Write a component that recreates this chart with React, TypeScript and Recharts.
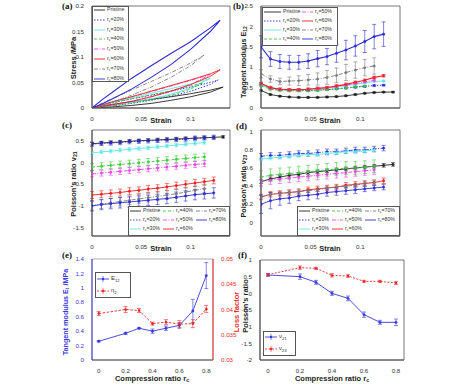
import React from 'react';
import { LineChart, Line, XAxis, YAxis, ErrorBar, ReferenceArea } from 'recharts';

// ---------- DATA ----------
// Panel (a): stress-strain hysteresis loops (loading / unloading)
const aPristineX = [0, 0.02, 0.04, 0.06, 0.08, 0.1, 0.12, 0.133];
const aPristineUp = [0, 0.007, 0.012, 0.017, 0.022, 0.028, 0.035, 0.041];
const aPristineDown = [0, 0.002, 0.005, 0.009, 0.015, 0.022, 0.031, 0.041];
const a20X = [0, 0.02, 0.04, 0.06, 0.08, 0.1, 0.12, 0.128];
const a20Up = [0, 0.01, 0.018, 0.025, 0.033, 0.041, 0.05, 0.055];
const a20Down = [0, 0.004, 0.009, 0.015, 0.023, 0.033, 0.046, 0.055];
const a30X = [0, 0.02, 0.04, 0.06, 0.08, 0.1, 0.12];
const a30Up = [0, 0.011, 0.02, 0.029, 0.038, 0.047, 0.058];
const a30Down = [0, 0.005, 0.011, 0.018, 0.027, 0.039, 0.058];
const a40X = [0, 0.02, 0.04, 0.06, 0.08, 0.1, 0.113];
const a40Up = [0, 0.01, 0.018, 0.026, 0.034, 0.043, 0.05];
const a40Down = [0, 0.004, 0.01, 0.016, 0.025, 0.037, 0.05];
const a50X = [0, 0.02, 0.04, 0.06, 0.08, 0.1, 0.12];
const a50Up = [0, 0.012, 0.022, 0.032, 0.043, 0.054, 0.066];
const a50Down = [0, 0.006, 0.013, 0.022, 0.032, 0.045, 0.066];
const a60X = [0, 0.02, 0.04, 0.06, 0.08, 0.1, 0.12, 0.13];
const a60Up = [0, 0.012, 0.022, 0.033, 0.044, 0.055, 0.067, 0.075];
const a60Down = [0, 0.006, 0.013, 0.022, 0.033, 0.046, 0.062, 0.075];
const a70X = [0, 0.02, 0.04, 0.06, 0.08, 0.1, 0.114];
const a70Up = [0, 0.018, 0.035, 0.052, 0.069, 0.088, 0.104];
const a70Down = [0, 0.011, 0.025, 0.041, 0.06, 0.083, 0.104];
const a80X = [0, 0.01, 0.02, 0.04, 0.06, 0.08, 0.1, 0.12, 0.13];
const a80Up = [0, 0.016, 0.03, 0.058, 0.083, 0.107, 0.13, 0.157, 0.172];
const a80Down = [0, 0.008, 0.017, 0.037, 0.06, 0.085, 0.115, 0.15, 0.172];

// Strain points for (b), (c), (d)
const strains = [0, 0.0095, 0.019, 0.0285, 0.038, 0.0475, 0.057, 0.0665, 0.076, 0.0855, 0.095, 0.1045, 0.114, 0.1235, 0.133];

// Panel (b): tangent modulus E12
const bPristine = [0.43, 0.33, 0.29, 0.27, 0.26, 0.26, 0.26, 0.27, 0.28, 0.3, 0.33, 0.36, 0.38, 0.39, 0.39];
const b20 = [0.58, 0.48, 0.45, 0.44, 0.43, 0.43, 0.44, 0.45, 0.47, 0.49, 0.51, 0.53, 0.55, 0.56];
const b30 = [0.57, 0.49, 0.46, 0.45, 0.45, 0.46, 0.47, 0.49, 0.52, 0.55, 0.58, 0.62, 0.65, 0.66];
const b40 = [0.55, 0.46, 0.43, 0.42, 0.42, 0.42, 0.43, 0.45, 0.47, 0.49, 0.52, 0.54];
const b50 = [0.6, 0.49, 0.46, 0.45, 0.45, 0.46, 0.48, 0.5, 0.53, 0.56, 0.6, 0.64, 0.68];
const b60 = [0.6, 0.5, 0.46, 0.45, 0.45, 0.46, 0.48, 0.5, 0.54, 0.58, 0.63, 0.68, 0.75, 0.79];
const b70 = [0.84, 0.71, 0.65, 0.66, 0.67, 0.69, 0.71, 0.75, 0.8, 0.87, 0.93, 0.99, 1.03];
const b70Err = [0.1, 0.08, 0.08, 0.1, 0.12, 0.13, 0.15, 0.17, 0.18, 0.2, 0.2, 0.2, 0.2];
const b80 = [1.5, 1.2, 1.14, 1.12, 1.12, 1.15, 1.21, 1.26, 1.34, 1.42, 1.52, 1.63, 1.75, 1.81];
const b80Err = [0.27, 0.18, 0.17, 0.17, 0.17, 0.18, 0.2, 0.2, 0.22, 0.24, 0.25, 0.27, 0.3, 0.3];

// Panel (c): Poisson's ratio v21
const cPristine = [0.44, 0.46, 0.47, 0.48, 0.5, 0.51, 0.52, 0.53, 0.54, 0.55, 0.56, 0.57, 0.58, 0.59, 0.6];
const c20 = [0.43, 0.45, 0.46, 0.47, 0.49, 0.5, 0.51, 0.52, 0.53, 0.54, 0.55, 0.57, 0.58, 0.59];
const c30 = [0.23, 0.25, 0.27, 0.29, 0.31, 0.33, 0.35, 0.37, 0.39, 0.41, 0.43, 0.45, 0.47];
const c40 = [-0.1, -0.08, -0.06, -0.04, -0.02, 0, 0.02, 0.04, 0.06, 0.08, 0.1, 0.12, 0.14];
const c50 = [-0.26, -0.24, -0.22, -0.2, -0.18, -0.16, -0.14, -0.12, -0.1, -0.08, -0.06, -0.04, -0.02];
const c60 = [-0.75, -0.73, -0.71, -0.69, -0.66, -0.64, -0.61, -0.59, -0.56, -0.53, -0.5, -0.47, -0.44, -0.41];
const c70 = [-1.0, -0.96, -0.93, -0.9, -0.87, -0.84, -0.81, -0.78, -0.75, -0.72, -0.68, -0.64, -0.6];
const c80 = [-1.0, -0.97, -0.95, -0.93, -0.91, -0.89, -0.87, -0.85, -0.83, -0.8, -0.77, -0.74, -0.72, -0.7];

// Panel (d): Poisson's ratio v23
const dPristine = [0.45, 0.48, 0.5, 0.52, 0.53, 0.55, 0.56, 0.57, 0.58, 0.59, 0.6, 0.61, 0.62, 0.63, 0.64];
const d20 = [0.73, 0.74, 0.74, 0.75, 0.76, 0.76, 0.77, 0.78, 0.78, 0.79, 0.8, 0.8, 0.81, 0.82];
const d30 = [0.7, 0.71, 0.72, 0.73, 0.74, 0.75, 0.75, 0.76, 0.77, 0.78, 0.78, 0.79, 0.8];
const d40 = [0.5, 0.52, 0.53, 0.54, 0.55, 0.56, 0.57, 0.58, 0.59, 0.6, 0.6, 0.61, 0.62];
const d50 = [0.45, 0.47, 0.48, 0.49, 0.5, 0.51, 0.52, 0.53, 0.54, 0.55, 0.56, 0.57, 0.58];
const d60 = [0.28, 0.31, 0.32, 0.33, 0.34, 0.36, 0.37, 0.38, 0.39, 0.41, 0.42, 0.43, 0.44, 0.46];
const d70 = [0.28, 0.31, 0.32, 0.33, 0.34, 0.35, 0.36, 0.38, 0.39, 0.4, 0.41, 0.43, 0.44];
const d80 = [0.2, 0.24, 0.26, 0.27, 0.29, 0.3, 0.31, 0.33, 0.34, 0.35, 0.36, 0.37, 0.38, 0.39];
const d80Err = [0.1, 0.09, 0.07, 0.06, 0.05, 0.05, 0.05, 0.04, 0.04, 0.04, 0.04, 0.03, 0.03, 0.03];

// Panels (e), (f): vs compression ratio
const ratios = [0, 0.2, 0.3, 0.4, 0.5, 0.6, 0.7, 0.8];
const eE12 = [0.26, 0.37, 0.44, 0.4, 0.44, 0.48, 0.68, 1.17];
const eE12Err = [0.01, 0.015, 0.01, 0.03, 0.03, 0.04, 0.16, 0.18];
const eLoss = [0.0392, 0.04, 0.0398, 0.0372, 0.0375, 0.0371, 0.0372, 0.0401];
const eLossErr = [0.0004, 0.0006, 0.0004, 0.0003, 0.0005, 0.0007, 0.0008, 0.0007];
const fV21 = [0.55, 0.5, 0.33, 0.0, -0.15, -0.64, -0.87, -0.87];
const fV21Err = [0.04, 0.08, 0.06, 0.06, 0.07, 0.08, 0.06, 0.1];
const fV23 = [0.56, 0.77, 0.75, 0.54, 0.52, 0.36, 0.36, 0.31];
const fV23Err = [0.03, 0.05, 0.03, 0.05, 0.04, 0.03, 0.03, 0.04];

// ---------- STYLE ----------
const SANS = '"Liberation Sans", Arial, sans-serif';
const SERIF = '"Liberation Serif", "Times New Roman", serif';
const C = {
  pristine: '#222222',
  r20: '#2a2ad8',
  r30: '#5fe6e6',
  r40: '#3ccc3c',
  r50: '#f040f0',
  r60: '#f02020',
  r70: '#7a7a7a',
  r80: '#2c2cd0',
};
const DASH = { dash: '3 2', dot: '1.5 1.5', dashdot: '4 1.5 1 1.5' };
const BLUE = '#3838e0';
const RED = '#ee2a2a';

type Pt = { x: number; y: number; e?: number };
const mk = (xs: number[], ys: number[], es?: number[] | number): Pt[] =>
  ys.map((y, i) => ({ x: xs[i], y, e: Array.isArray(es) ? es[i] : es }));
const loop = (xs: number[], up: number[], down: number[]): Pt[] => [
  ...xs.map((x, i) => ({ x, y: up[i] })),
  ...xs.map((x, i) => ({ x, y: down[i] })).reverse().slice(1),
];

type Series = { key: string; color: string; dash?: string; data: Pt[]; dots?: boolean; w?: number };

const seriesA: Series[] = [
  { key: 'p', color: C.pristine, data: loop(aPristineX, aPristineUp, aPristineDown) },
  { key: '20', color: C.r20, dash: DASH.dot, data: loop(a20X, a20Up, a20Down) },
  { key: '30', color: C.r30, data: loop(a30X, a30Up, a30Down) },
  { key: '40', color: C.r40, dash: DASH.dash, data: loop(a40X, a40Up, a40Down) },
  { key: '50', color: C.r50, dash: DASH.dashdot, data: loop(a50X, a50Up, a50Down) },
  { key: '60', color: C.r60, data: loop(a60X, a60Up, a60Down) },
  { key: '70', color: C.r70, dash: DASH.dashdot, data: loop(a70X, a70Up, a70Down) },
  { key: '80', color: C.r80, data: loop(a80X, a80Up, a80Down), w: 1.1 },
];

const seriesB: Series[] = [
  { key: 'p', color: C.pristine, data: mk(strains, bPristine, 0.015), dots: true },
  { key: '20', color: C.r20, dash: DASH.dot, data: mk(strains, b20, 0.02), dots: true },
  { key: '30', color: C.r30, data: mk(strains, b30, 0.02), dots: true },
  { key: '40', color: C.r40, dash: DASH.dash, data: mk(strains, b40, 0.02), dots: true },
  { key: '50', color: C.r50, dash: DASH.dashdot, data: mk(strains, b50, 0.025), dots: true },
  { key: '60', color: C.r60, data: mk(strains, b60, 0.03), dots: true, w: 1.1 },
  { key: '70', color: C.r70, dash: DASH.dashdot, data: mk(strains, b70, b70Err), dots: true },
  { key: '80', color: C.r80, data: mk(strains, b80, b80Err), dots: true, w: 1.1 },
];

const seriesC: Series[] = [
  { key: 'p', color: C.pristine, data: mk(strains, cPristine, 0.03), dots: true },
  { key: '20', color: C.r20, dash: DASH.dot, data: mk(strains, c20, 0.05), dots: true },
  { key: '30', color: C.r30, data: mk(strains, c30, 0.04), dots: true },
  { key: '40', color: C.r40, dash: DASH.dash, data: mk(strains, c40, 0.08), dots: true },
  { key: '50', color: C.r50, dash: DASH.dashdot, data: mk(strains, c50, 0.07), dots: true },
  { key: '60', color: C.r60, data: mk(strains, c60, 0.08), dots: true },
  { key: '70', color: C.r70, dash: DASH.dashdot, data: mk(strains, c70, 0.1), dots: true },
  { key: '80', color: C.r80, data: mk(strains, c80, 0.12), dots: true },
];

const seriesD: Series[] = [
  { key: 'p', color: C.pristine, data: mk(strains, dPristine, 0.02), dots: true },
  { key: '20', color: C.r20, dash: DASH.dashdot, data: mk(strains, d20, 0.03), dots: true },
  { key: '30', color: C.r30, data: mk(strains, d30, 0.02), dots: true },
  { key: '40', color: C.r40, dash: DASH.dash, data: mk(strains, d40, 0.07), dots: true },
  { key: '50', color: C.r50, dash: DASH.dashdot, data: mk(strains, d50, 0.05), dots: true },
  { key: '60', color: C.r60, data: mk(strains, d60, 0.03), dots: true },
  { key: '70', color: C.r70, dash: DASH.dashdot, data: mk(strains, d70, 0.02), dots: true },
  { key: '80', color: C.r80, data: mk(strains, d80, d80Err), dots: true },
];

const tick = (fill = '#333') => ({ fontSize: 6.2, fill, fontFamily: SANS });
const L = 30, T = 8, R = 8, B = 14;

function renderSeries(list: Series[], axisId?: string) {
  return list.map((s) => (
    <Line
      key={s.key}
      data={s.data}
      dataKey="y"
      type="linear"
      stroke={s.color}
      strokeWidth={s.w ?? 0.9}
      strokeDasharray={s.dash}
      dot={s.dots ? { r: 1.2, fill: s.color, stroke: s.color, strokeWidth: 0.5 } : false}
      isAnimationActive={false}
      yAxisId={axisId}
    >
      {s.data[0].e !== undefined && (
        <ErrorBar dataKey="e" width={2} stroke={s.color} strokeWidth={0.6} direction="y" />
      )}
    </Line>
  ));
}

function StrainPanel({ x, y, w, h, yDomain, yTicks, series }: { x: number; y: number; w: number; h: number; yDomain: [number, number]; yTicks: number[]; series: Series[] }) {
  return (
    <div style={{ position: 'absolute', left: x - L, top: y - T }}>
      <LineChart width={w + L + R} height={h + T + B} margin={{ top: T, right: R, left: 0, bottom: 0 }}>
        <XAxis type="number" dataKey="x" domain={[0, 0.14]} ticks={[0, 0.05, 0.1]} height={B} tick={tick()} tickLine={false} tickMargin={3} axisLine={{ stroke: '#555' }} allowDataOverflow />
        <YAxis type="number" domain={yDomain} ticks={yTicks} width={L} tick={tick()} tickLine={false} tickMargin={2} axisLine={{ stroke: '#555' }} allowDataOverflow />
        <ReferenceArea x1={0} x2={0.14} y1={yDomain[0]} y2={yDomain[1]} fill="#fff" fillOpacity={0} stroke="#555" strokeWidth={0.8} />
        {renderSeries(series)}
      </LineChart>
    </div>
  );
}

// ---------- text helpers ----------
const abs = (x: number, y: number, extra: React.CSSProperties = {}): React.CSSProperties => ({ position: 'absolute', left: x, top: y, whiteSpace: 'nowrap', ...extra });

function VLabel({ x, y, children, color = '#222', size = 7.5 }: { x: number; y: number; children: React.ReactNode; color?: string; size?: number }) {
  return (
    <div style={abs(x, y, { transform: 'translate(-50%,-50%) rotate(-90deg)', fontFamily: SANS, fontWeight: 'bold', fontSize: size, color, lineHeight: 1 })}>{children}</div>
  );
}
function HLabel({ x, y, children }: { x: number; y: number; children: React.ReactNode }) {
  return <div style={abs(x, y, { transform: 'translate(-50%,-50%)', fontFamily: SANS, fontWeight: 'bold', fontSize: 7.5, color: '#222', lineHeight: 1 })}>{children}</div>;
}
function Letter({ x, y, t }: { x: number; y: number; t: string }) {
  return <div style={abs(x, y, { fontFamily: SERIF, fontWeight: 'bold', fontSize: 9, color: '#111', transform: 'translateY(-50%)', lineHeight: 1 })}>{t}</div>;
}
const Sub = ({ children }: { children: React.ReactNode }) => <span style={{ fontSize: '0.7em', verticalAlign: '-0.3em', lineHeight: 1 }}>{children}</span>;

const legendNames = ['Pristine', '20%', '30%', '40%', '50%', '60%', '70%', '80%'];
function LegendName({ i }: { i: number }) {
  if (i === 0) return <>{legendNames[0]}</>;
  return <>r<Sub>c</Sub>={legendNames[i]}</>;
}

function LegItem({ x, y, color, dash, len = 12, label, marker, size = 5.5 }: { x: number; y: number; color: string; dash?: string; len?: number; label: React.ReactNode; marker?: boolean; size?: number }) {
  return (
    <>
      <svg style={abs(x, y - 3)} width={len} height={6}>
        <line x1={0} y1={3} x2={len} y2={3} stroke={color} strokeWidth={0.9} strokeDasharray={dash} />
        {marker && <circle cx={len / 2} cy={3} r={1.2} fill={color} />}
        {marker && <line x1={len / 2} x2={len / 2} y1={0} y2={6} stroke={color} strokeWidth={0.6} />}
      </svg>
      <div style={abs(x + len + 2, y, { transform: 'translateY(-50%)', fontFamily: SANS, fontSize: size, color: '#333', lineHeight: 1 })}>{label}</div>
    </>
  );
}

const Box = ({ x, y, w, h }: { x: number; y: number; w: number; h: number }) => (
  <div style={abs(x, y, { width: w, height: h, border: '0.8px solid #555', background: '#fff', boxSizing: 'border-box' })} />
);

export default function App() {
  const panelA = { x: 92, y: 6, w: 138, h: 102 };
  const panelB = { x: 261, y: 6, w: 139, h: 102 };
  const panelC = { x: 92, y: 130, w: 138, h: 106 };
  const panelD = { x: 261, y: 130, w: 139, h: 106 };
  const pE = { x: 92, y: 259, w: 121, h: 101 };
  const pF = { x: 260, y: 260, w: 144, h: 100 };
  const ER = 30;

  const seriesE: Series[] = [{ key: 'e12', color: BLUE, data: mk(ratios, eE12, eE12Err), dots: true }];
  const seriesEr: Series[] = [{ key: 'eta', color: RED, dash: '2.5 1.5', data: mk(ratios, eLoss, eLossErr), dots: true }];
  const seriesF: Series[] = [
    { key: 'v21', color: BLUE, data: mk(ratios, fV21, fV21Err), dots: true },
    { key: 'v23', color: RED, dash: '2 1.5', data: mk(ratios, fV23, fV23Err), dots: true },
  ];

  const seriesColorsDash = [
    [C.pristine, undefined], [C.r20, DASH.dot], [C.r30, undefined], [C.r40, DASH.dash],
    [C.r50, DASH.dashdot], [C.r60, undefined], [C.r70, DASH.dashdot], [C.r80, undefined],
  ] as [string, string | undefined][];

  return (
    <div style={{ position: 'absolute', left: 0, top: 0, width: 474, height: 385, background: '#fff', overflow: 'hidden' }}>
      <StrainPanel {...panelA} yDomain={[0, 0.2]} yTicks={[0, 0.05, 0.1, 0.15, 0.2]} series={seriesA} />
      <StrainPanel {...panelB} yDomain={[0, 2.5]} yTicks={[0, 0.5, 1, 1.5, 2, 2.5]} series={seriesB} />
      <StrainPanel {...panelC} yDomain={[-1.7, 0.76]} yTicks={[-1.5, -1, -0.5, 0, 0.5]} series={seriesC} />
      <StrainPanel {...panelD} yDomain={[-0.15, 1.02]} yTicks={[0, 0.2, 0.4, 0.6, 0.8, 1]} series={seriesD} />

      {/* Panel (e) */}
      <div style={{ position: 'absolute', left: pE.x - L, top: pE.y - T }}>
        <LineChart width={pE.w + L + ER} height={pE.h + T + B} margin={{ top: T, right: 0, left: 0, bottom: 0 }}>
          <XAxis type="number" dataKey="x" domain={[-0.05, 0.85]} ticks={[0, 0.2, 0.4, 0.6, 0.8]} height={B} tick={tick()} tickLine={false} tickMargin={3} axisLine={{ stroke: '#555' }} allowDataOverflow />
          <YAxis yAxisId="l" type="number" domain={[0, 1.4]} ticks={[0, 0.2, 0.4, 0.6, 0.8, 1, 1.2, 1.4]} width={L} tick={tick(BLUE)} tickLine={false} tickMargin={2} axisLine={{ stroke: BLUE }} allowDataOverflow />
          <YAxis yAxisId="r" orientation="right" type="number" domain={[0.03, 0.05]} ticks={[0.03, 0.035, 0.04, 0.045, 0.05]} width={ER} tick={tick(RED)} tickLine={false} tickMargin={2} axisLine={{ stroke: RED }} allowDataOverflow />
          <ReferenceArea yAxisId="l" x1={-0.05} x2={0.85} y1={0} y2={1.4} fill="#fff" fillOpacity={0} stroke="#777" strokeWidth={0.6} />
          {renderSeries(seriesE, 'l')}
          {renderSeries(seriesEr, 'r')}
        </LineChart>
      </div>

      {/* Panel (f) */}
      <div style={{ position: 'absolute', left: pF.x - L, top: pF.y - T }}>
        <LineChart width={pF.w + L + R} height={pF.h + T + B} margin={{ top: T, right: R, left: 0, bottom: 0 }}>
          <XAxis type="number" dataKey="x" domain={[-0.05, 0.85]} ticks={[0, 0.2, 0.4, 0.6, 0.8]} height={B} tick={tick()} tickLine={false} tickMargin={3} axisLine={{ stroke: '#555' }} allowDataOverflow />
          <YAxis type="number" domain={[-2, 1]} ticks={[-2, -1.5, -1, -0.5, 0, 0.5, 1]} width={L} tick={tick()} tickLine={false} tickMargin={2} axisLine={{ stroke: '#555' }} allowDataOverflow />
          <ReferenceArea x1={-0.05} x2={0.85} y1={-2} y2={1} fill="#fff" fillOpacity={0} stroke="#555" strokeWidth={0.8} />
          {renderSeries(seriesF)}
        </LineChart>
      </div>

      {/* Legend (a) */}
      <Box x={92} y={6} w={37} h={76} />
      {seriesColorsDash.map(([c, d], i) => (
        <LegItem key={'a' + i} x={94} y={10 + i * 9.8} color={c} dash={d} len={11} label={<LegendName i={i} />} size={5.2} />
      ))}

      {/* Legend (b) */}
      <Box x={262} y={7} w={76} h={39} />
      {seriesColorsDash.map(([c, d], i) => (
        <LegItem key={'b' + i} x={i < 4 ? 264 : 302} y={12 + (i % 4) * 9} color={c} dash={d} len={i < 4 ? 17 : 11} label={<LegendName i={i} />} size={5.2} />
      ))}

      {/* Legend (c) and (d) */}
      {[92, 261].map((ox) => (
        <React.Fragment key={'cd' + ox}>
          <Box x={ox + 36} y={206} w={ox === 92 ? 102 : 103} h={30} />
          {seriesColorsDash.map(([c, d], i) => {
            const col = Math.floor(i / 3);
            const row = i % 3;
            return <LegItem key={'cd' + ox + i} x={ox + 38 + col * 33} y={211 + row * 9} color={c} dash={d} len={11} label={<LegendName i={i} />} size={5.2} />;
          })}
        </React.Fragment>
      ))}

      {/* Legend (e) */}
      <Box x={95} y={272} w={36} h={26} />
      <LegItem x={97} y={279} color={BLUE} len={12} marker label={<span>E<Sub>12</Sub></span>} size={6} />
      <LegItem x={97} y={291} color={RED} dash="2 1.5" len={12} marker label={<span>η<Sub>2</Sub></span>} size={6} />

      {/* Legend (f) */}
      <Box x={263} y={331} w={33} h={25} />
      <LegItem x={265} y={337} color={BLUE} len={12} marker label={<span>ν<Sub>21</Sub></span>} size={6} />
      <LegItem x={265} y={349} color={RED} dash="2 1.5" len={12} marker label={<span>ν<Sub>23</Sub></span>} size={6} />

      {/* Axis labels */}
      <VLabel x={74} y={58}>Stress /MPa</VLabel>
      <VLabel x={244} y={62} size={7.2}>Tangent modulus E<Sub>12</Sub></VLabel>
      <VLabel x={74} y={184}>Poisson's ratio ν<Sub>21</Sub></VLabel>
      <VLabel x={244} y={186} size={7.2}>Poisson's ratio ν<Sub>23</Sub></VLabel>
      <VLabel x={66} y={312} color={BLUE} size={7.2}>Tangent modulus E<Sub>t</Sub> /MPa</VLabel>
      <VLabel x={237} y={312} color={RED}>Loss factor</VLabel>
      <VLabel x={246} y={306}>Poisson's ratio</VLabel>
      <HLabel x={161} y={121}>Strain</HLabel>
      <HLabel x={330} y={121}>Strain</HLabel>
      <HLabel x={161} y={249}>Strain</HLabel>
      <HLabel x={330} y={249}>Strain</HLabel>
      <HLabel x={152} y={379}>Compression ratio r<Sub>c</Sub></HLabel>
      <HLabel x={332} y={379}>Compression ratio r<Sub>c</Sub></HLabel>

      {/* Panel letters */}
      <Letter x={62} y={6} t="(a)" />
      <Letter x={233} y={6} t="(b)" />
      <Letter x={62} y={125} t="(c)" />
      <Letter x={236} y={126} t="(d)" />
      <Letter x={62} y={255} t="(e)" />
      <Letter x={238} y={255} t="(f)" />
    </div>
  );
}
